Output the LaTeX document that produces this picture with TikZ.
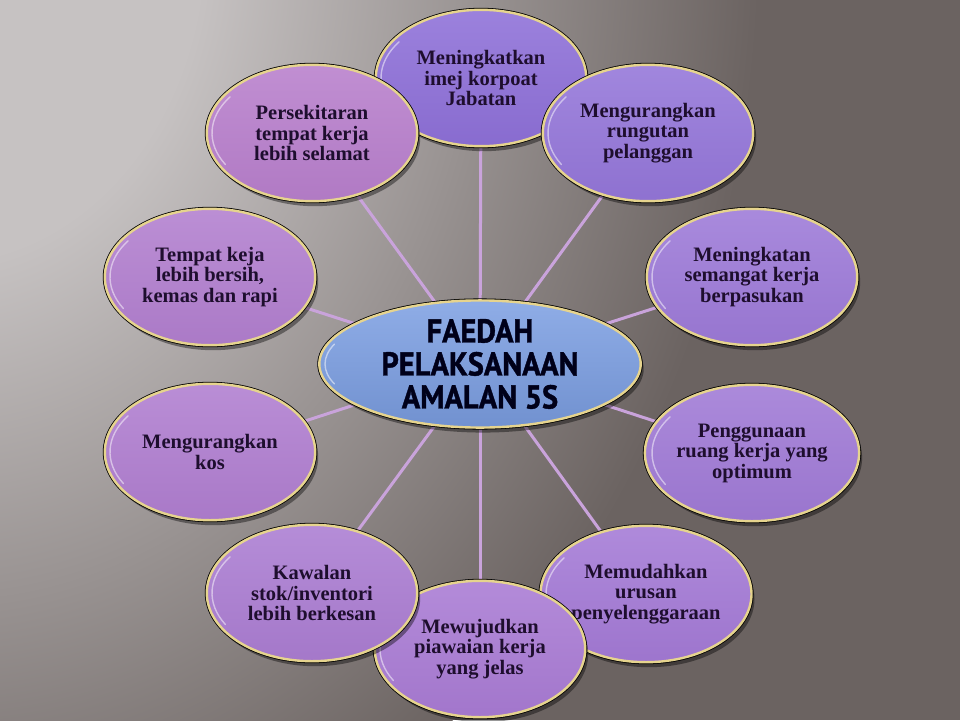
\documentclass[tikz,border=0pt]{standalone}
\usepackage{fontspec}
\setmainfont{Liberation Serif}
\newfontfamily\titlefont[FakeStretch=0.92, BoldFeatures={FakeBold=1.2}]{PT Sans}
\usetikzlibrary{shapes.geometric,shadows,calc}
\definecolor{bglight}{HTML}{C6C2C2}
\definecolor{bgdark}{HTML}{6B6361}
\definecolor{ringtan}{HTML}{E6D48E}
\definecolor{txtdark}{HTML}{1E0E2E}
\definecolor{spoke}{HTML}{C9A3DB}
\definecolor{ctrblue}{HTML}{7B9EE2}
\definecolor{ca}{HTML}{8E70D8}
\definecolor{cb}{HTML}{9476D9}
\definecolor{cc}{HTML}{9D7AD8}
\definecolor{cd}{HTML}{A07AD6}
\definecolor{ce}{HTML}{A47AD6}
\definecolor{cf}{HTML}{A97BD4}
\definecolor{cg}{HTML}{AB7DD2}
\definecolor{ch}{HTML}{B07ED0}
\definecolor{ci}{HTML}{B27FCF}
\definecolor{cj}{HTML}{B87FCC}
\pgfdeclareradialshading{bgrad}{\pgfpoint{0bp}{0bp}}{color(0bp)=(bglight); color(8bp)=(bglight); color(25bp)=(bgdark); color(50bp)=(bgdark)}
\pgfdeclarelayer{back}
\pgfdeclarelayer{spokes}
\pgfsetlayers{back,spokes,main}
\tikzset{
  ringed/.style={ellipse, inner sep=0pt, align=center,
    drop shadow={shadow xshift=3pt, shadow yshift=-5pt, opacity=0.4, fill=black},
    preaction={draw=black, line width=4pt},
    draw=ringtan, line width=2.4pt},
  bubble/.style={ringed, minimum width=210.4, minimum height=136.4,
    text=txtdark, font=\bfseries\fontsize{20.5}{20.5}\selectfont},
  hub/.style={ringed, minimum width=321.4, minimum height=126.4,
    top color=ctrblue!85!white, bottom color=ctrblue!92!black,
    text=black!90!blue, font=\titlefont\bfseries\fontsize{33}{33}\selectfont},
  spokeline/.style={draw=spoke, line width=3pt},
  gloss/.style={draw=white, opacity=0.5, line width=1.4pt, line cap=round}
}
\begin{document}
\begin{tikzpicture}[x=1pt,y=-1pt]
\useasboundingbox (0,0) rectangle (960,720);
\begin{pgfonlayer}{back}
  \fill[bgdark] (0,0) rectangle (960,720);
  \begin{scope}
    \clip (0,0) rectangle (960,720);
    \shade[shading=bgrad] (-60,-60) ellipse [x radius=820, y radius=1000];
  \end{scope}
\end{pgfonlayer}

\node[hub] (ctr) at (480,364) {FAEDAH\\PELAKSANAAN\\AMALAN 5S};
\draw[gloss] ($(ctr.center)+(200:155 and 58)$) arc[start angle=200, end angle=160, x radius=155, y radius=58];

\foreach \n/\x/\y/\c/\t in {
  n1/481/78/ca/{Meningkatkan\\imej korpoat\\Jabatan},
  n2/648/133/cb/{Mengurangkan\\rungutan\\pelanggan},
  n3/752/277/cc/{Meningkatan\\semangat kerja\\berpasukan},
  n4/752/453/cd/{Penggunaan\\ruang kerja yang\\optimum},
  n5/646/594/ce/{Memudahkan\\urusan\\penyelenggaraan},
  n6/480/649/cf/{Mewujudkan\\piawaian kerja\\yang jelas},
  n7/312/593/cg/{Kawalan\\stok/inventori\\lebih berkesan},
  n8/210/452/ch/{Mengurangkan\\kos},
  n9/210/277/ci/{Tempat keja\\lebih bersih,\\kemas dan rapi},
  n10/312/133/cj/{Persekitaran\\tempat kerja\\lebih selamat}}{
  \node[bubble, top color=\c!88!white, bottom color=\c!96!black] (\n) at (\x,\y) {\t};
  \draw[gloss] ($(\n.center)+(215:100 and 63)$) arc[start angle=215, end angle=150, x radius=100, y radius=63];
  \begin{pgfonlayer}{spokes}
    \path[spokeline] (ctr.center) -- (\n.center);
  \end{pgfonlayer}
}
\end{tikzpicture}
\end{document}
